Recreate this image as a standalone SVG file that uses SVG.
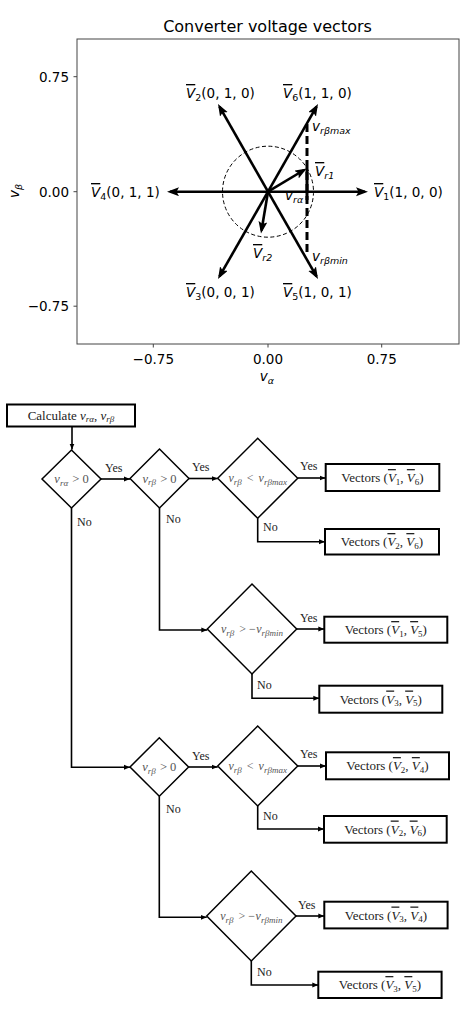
<svg xmlns="http://www.w3.org/2000/svg" width="474" height="1009" viewBox="0 0 474 1009">
<defs>
<marker id="vh" markerUnits="userSpaceOnUse" markerWidth="14" markerHeight="10" refX="9" refY="4.5" orient="auto">
<path d="M0,0 L12,4.5 L0,9 L2.5,4.5 z" fill="#000"/>
</marker>
<marker id="fa" markerUnits="userSpaceOnUse" markerWidth="8" markerHeight="6" refX="6" refY="3" orient="auto">
<path d="M0,0.5 L6,3 L0,5.5 z" fill="#000"/>
</marker>
</defs>
<style>
.pt{font-family:"DejaVu Sans",sans-serif;font-size:13.5px;fill:#000}
.pi{font-style:italic}
.ps{font-size:9.5px}
.ov{text-decoration:overline}
.vec{stroke:#000;stroke-width:2.6;fill:none;marker-end:url(#vh)}
.fr{fill:none;stroke:#444;stroke-width:1}
.tk{stroke:#444;stroke-width:1}
.ft{font-family:"Liberation Serif","Times New Roman",serif;font-size:13px;fill:#222}
.dt{font-family:"Liberation Serif","Times New Roman",serif;font-size:12.5px;fill:#555;font-style:italic}
.fi{font-style:italic}
.fs{font-size:9px}
.up{font-style:normal}
.box{fill:#fff;stroke:#000;stroke-width:2}
.dia{fill:#fff;stroke:#000;stroke-width:1.5}
.con{fill:none;stroke:#000;stroke-width:1.6;marker-end:url(#fa)}
.lbl{font-family:"Liberation Serif","Times New Roman",serif;font-size:12px;fill:#222}
</style>

<g id="plot">
<text class="pt" x="267.5" y="32" text-anchor="middle" style="font-size:16px">Converter voltage vectors</text>
<rect class="fr" x="77" y="39" width="382" height="305"/>
<line class="tk" x1="73.5" y1="76.7" x2="77" y2="76.7"/>
<line class="tk" x1="73.5" y1="191.7" x2="77" y2="191.7"/>
<line class="tk" x1="73.5" y1="306.2" x2="77" y2="306.2"/>
<line class="tk" x1="153.3" y1="344" x2="153.3" y2="347.5"/>
<line class="tk" x1="268" y1="344" x2="268" y2="347.5"/>
<line class="tk" x1="381.7" y1="344" x2="381.7" y2="347.5"/>
<text class="pt" x="69" y="81.5" text-anchor="end">0.75</text>
<text class="pt" x="69" y="196.5" text-anchor="end">0.00</text>
<text class="pt" x="69" y="311" text-anchor="end">−0.75</text>
<text class="pt" x="153.3" y="364" text-anchor="middle">−0.75</text>
<text class="pt" x="268" y="364" text-anchor="middle">0.00</text>
<text class="pt" x="381.7" y="364" text-anchor="middle">0.75</text>
<text class="pt" x="267" y="381" text-anchor="middle"><tspan class="pi">v</tspan><tspan class="ps pi" dy="3">α</tspan></text>
<text class="pt" transform="translate(19,191) rotate(-90)" text-anchor="middle"><tspan class="pi">v</tspan><tspan class="ps pi" dy="3">β</tspan></text>

<circle cx="268" cy="191.7" r="45.5" fill="none" stroke="#000" stroke-width="1" stroke-dasharray="4 2.5"/>
<line x1="307" y1="124" x2="307" y2="252" stroke="#000" stroke-width="3" stroke-dasharray="8 4"/>
<line x1="307" y1="168" x2="307" y2="200" stroke="#000" stroke-width="3"/>
<line class="vec" x1="268" y1="191.7" x2="365" y2="191.7"/>
<line class="vec" x1="268" y1="191.7" x2="170" y2="191.7"/>
<line class="vec" x1="268" y1="191.7" x2="316.5" y2="106.6"/>
<line class="vec" x1="268" y1="191.7" x2="219.5" y2="106.6"/>
<line class="vec" x1="268" y1="191.7" x2="219.5" y2="276.4"/>
<line class="vec" x1="268" y1="191.7" x2="316.5" y2="276.4"/>
<line class="vec" x1="268" y1="191.7" x2="304.1" y2="170"/>
<line class="vec" x1="268" y1="191.7" x2="261.5" y2="230.5"/>

<text class="pt" x="186" y="98"><tspan class="pi ov">V</tspan><tspan class="ps" dy="3">2</tspan><tspan dy="-3">(0, 1, 0)</tspan></text>
<text class="pt" x="283" y="98"><tspan class="pi ov">V</tspan><tspan class="ps" dy="3">6</tspan><tspan dy="-3">(1, 1, 0)</tspan></text>
<text class="pt" x="374" y="197"><tspan class="pi ov">V</tspan><tspan class="ps" dy="3">1</tspan><tspan dy="-3">(1, 0, 0)</tspan></text>
<text class="pt" x="91" y="197"><tspan class="pi ov">V</tspan><tspan class="ps" dy="3">4</tspan><tspan dy="-3">(0, 1, 1)</tspan></text>
<text class="pt" x="186" y="297"><tspan class="pi ov">V</tspan><tspan class="ps" dy="3">3</tspan><tspan dy="-3">(0, 0, 1)</tspan></text>
<text class="pt" x="283" y="297"><tspan class="pi ov">V</tspan><tspan class="ps" dy="3">5</tspan><tspan dy="-3">(1, 0, 1)</tspan></text>
<text class="pt" x="312" y="131"><tspan class="pi">v</tspan><tspan class="ps pi" dy="3">rβmax</tspan></text>
<text class="pt" x="312" y="261"><tspan class="pi">v</tspan><tspan class="ps pi" dy="3">rβmin</tspan></text>
<text class="pt" x="315" y="176"><tspan class="pi ov">V</tspan><tspan class="ps pi" dy="3">r1</tspan></text>
<text class="pt" x="253" y="258"><tspan class="pi ov">V</tspan><tspan class="ps pi" dy="3">r2</tspan></text>
<text class="pt" x="285" y="200"><tspan class="pi">v</tspan><tspan class="ps pi" dy="3">rα</tspan></text>
</g>

<g id="connectors">
<line class="con" x1="72" y1="427" x2="72" y2="449.5"/>
<line class="con" x1="101" y1="479" x2="130" y2="479"/>
<line class="con" x1="189" y1="478.5" x2="217.7" y2="478.5"/>
<line class="con" x1="297.7" y1="478" x2="325.5" y2="478"/>
<path class="con" d="M257.7,518.3 V541.7 H325"/>
<path class="con" d="M71.5,508 V767.3 H130"/>
<path class="con" d="M159.5,508 V630 H207.3"/>
<line class="con" x1="296.7" y1="629" x2="324.3" y2="629"/>
<path class="con" d="M252,674 V698.3 H319.3"/>
<line class="con" x1="188.6" y1="767" x2="217.7" y2="767"/>
<line class="con" x1="297.7" y1="766" x2="326" y2="766"/>
<path class="con" d="M257.7,806 V829 H324"/>
<path class="con" d="M159.3,796.3 V917.3 H206.7"/>
<line class="con" x1="296" y1="916" x2="324.3" y2="916"/>
<path class="con" d="M251.3,961 V985 H318.3"/>
<text class="lbl" x="105" y="472">Yes</text>
<text class="lbl" x="192" y="471">Yes</text>
<text class="lbl" x="300" y="470">Yes</text>
<text class="lbl" x="300" y="622">Yes</text>
<text class="lbl" x="192" y="760">Yes</text>
<text class="lbl" x="300" y="758">Yes</text>
<text class="lbl" x="298" y="909">Yes</text>
<text class="lbl" x="77" y="526">No</text>
<text class="lbl" x="166" y="523">No</text>
<text class="lbl" x="263" y="531">No</text>
<text class="lbl" x="257" y="689">No</text>
<text class="lbl" x="166" y="813">No</text>
<text class="lbl" x="263" y="820">No</text>
<text class="lbl" x="257" y="976">No</text>
</g>

<g id="start">
<rect class="box" x="7" y="404.5" width="128" height="22"/>
<text class="ft" x="71" y="419.5" text-anchor="middle">Calculate <tspan class="fi">v</tspan><tspan class="fs fi" dy="2.5">rα</tspan><tspan dy="-2.5">, </tspan><tspan class="fi">v</tspan><tspan class="fs fi" dy="2.5">rβ</tspan></text>
</g>
<g id="d1">
<polygon class="dia" points="42,479 71.5,450 101,479 71.5,508"/>
<text class="dt" x="71.5" y="483" text-anchor="middle">v<tspan class="fs" dy="2.5">rα</tspan><tspan class="up" dy="-2.5" dx="1"> &gt; 0</tspan></text>
</g>
<g id="d2">
<polygon class="dia" points="130,478.5 159.5,449 189,478.5 159.5,508"/>
<text class="dt" x="159.5" y="482.5" text-anchor="middle">v<tspan class="fs" dy="2.5">rβ</tspan><tspan class="up" dy="-2.5" dx="1"> &gt; 0</tspan></text>
</g>
<g id="d3">
<polygon class="dia" points="217.7,478.3 257.7,438.3 297.7,478.3 257.7,518.3"/>
<text class="dt" x="257.7" y="482" text-anchor="middle" style="font-size:12px">v<tspan class="fs" dy="2.5">rβ</tspan><tspan class="up" dy="-2.5" dx="2"> &lt; </tspan><tspan dx="2">v</tspan><tspan class="fs" dy="2.5">rβmax</tspan></text>
</g>
<g id="b16">
<rect class="box" x="325.7" y="464" width="113.6" height="27"/>
<text class="ft" x="382.5" y="482" text-anchor="middle">Vectors (<tspan class="fi ov">V</tspan><tspan class="fs" dy="2.5">1</tspan><tspan dy="-2.5">, </tspan><tspan class="fi ov">V</tspan><tspan class="fs" dy="2.5">6</tspan><tspan dy="-2.5">)</tspan></text>
</g>
<g id="b26">
<rect class="box" x="325" y="529" width="114" height="25.5"/>
<text class="ft" x="382" y="546" text-anchor="middle">Vectors (<tspan class="fi ov">V</tspan><tspan class="fs" dy="2.5">2</tspan><tspan dy="-2.5">, </tspan><tspan class="fi ov">V</tspan><tspan class="fs" dy="2.5">6</tspan><tspan dy="-2.5">)</tspan></text>
</g>
<g id="d4">
<polygon class="dia" points="207.3,629 252,584 296.7,629 252,674"/>
<text class="dt" x="252" y="633" text-anchor="middle" style="font-size:12px">v<tspan class="fs" dy="2.5">rβ</tspan><tspan class="up" dy="-2.5" dx="2"> &gt; −</tspan><tspan dx="0.5">v</tspan><tspan class="fs" dy="2.5">rβmin</tspan></text>
</g>
<g id="b15">
<rect class="box" x="324.3" y="616.7" width="123" height="26"/>
<text class="ft" x="385.8" y="634" text-anchor="middle">Vectors (<tspan class="fi ov">V</tspan><tspan class="fs" dy="2.5">1</tspan><tspan dy="-2.5">, </tspan><tspan class="fi ov">V</tspan><tspan class="fs" dy="2.5">5</tspan><tspan dy="-2.5">)</tspan></text>
</g>
<g id="b35">
<rect class="box" x="319.3" y="685.7" width="123" height="27"/>
<text class="ft" x="380.8" y="703.5" text-anchor="middle">Vectors (<tspan class="fi ov">V</tspan><tspan class="fs" dy="2.5">3</tspan><tspan dy="-2.5">, </tspan><tspan class="fi ov">V</tspan><tspan class="fs" dy="2.5">5</tspan><tspan dy="-2.5">)</tspan></text>
</g>
<g id="d5">
<polygon class="dia" points="130,767 159.3,737.7 188.6,767 159.3,796.3"/>
<text class="dt" x="159.3" y="771" text-anchor="middle">v<tspan class="fs" dy="2.5">rβ</tspan><tspan class="up" dy="-2.5" dx="1"> &gt; 0</tspan></text>
</g>
<g id="d6">
<polygon class="dia" points="217.7,766 257.7,726 297.7,766 257.7,806"/>
<text class="dt" x="257.7" y="770" text-anchor="middle" style="font-size:12px">v<tspan class="fs" dy="2.5">rβ</tspan><tspan class="up" dy="-2.5" dx="2"> &lt; </tspan><tspan dx="2">v</tspan><tspan class="fs" dy="2.5">rβmax</tspan></text>
</g>
<g id="b24">
<rect class="box" x="326" y="752.3" width="123" height="27"/>
<text class="ft" x="387.5" y="770" text-anchor="middle">Vectors (<tspan class="fi ov">V</tspan><tspan class="fs" dy="2.5">2</tspan><tspan dy="-2.5">, </tspan><tspan class="fi ov">V</tspan><tspan class="fs" dy="2.5">4</tspan><tspan dy="-2.5">)</tspan></text>
</g>
<g id="b26b">
<rect class="box" x="324" y="816" width="122.7" height="26.7"/>
<text class="ft" x="385.3" y="833.5" text-anchor="middle">Vectors (<tspan class="fi ov">V</tspan><tspan class="fs" dy="2.5">2</tspan><tspan dy="-2.5">, </tspan><tspan class="fi ov">V</tspan><tspan class="fs" dy="2.5">6</tspan><tspan dy="-2.5">)</tspan></text>
</g>
<g id="d7">
<polygon class="dia" points="206.7,916 251.3,871 296,916 251.3,961"/>
<text class="dt" x="251.3" y="920" text-anchor="middle" style="font-size:12px">v<tspan class="fs" dy="2.5">rβ</tspan><tspan class="up" dy="-2.5" dx="2"> &gt; −</tspan><tspan dx="0.5">v</tspan><tspan class="fs" dy="2.5">rβmin</tspan></text>
</g>
<g id="b34">
<rect class="box" x="324.3" y="901.7" width="123.3" height="26.7"/>
<text class="ft" x="386" y="919.5" text-anchor="middle">Vectors (<tspan class="fi ov">V</tspan><tspan class="fs" dy="2.5">3</tspan><tspan dy="-2.5">, </tspan><tspan class="fi ov">V</tspan><tspan class="fs" dy="2.5">4</tspan><tspan dy="-2.5">)</tspan></text>
</g>
<g id="b35b">
<rect class="box" x="318.3" y="971.7" width="123.3" height="26.3"/>
<text class="ft" x="380" y="989" text-anchor="middle">Vectors (<tspan class="fi ov">V</tspan><tspan class="fs" dy="2.5">3</tspan><tspan dy="-2.5">, </tspan><tspan class="fi ov">V</tspan><tspan class="fs" dy="2.5">5</tspan><tspan dy="-2.5">)</tspan></text>
</g>
</svg>
